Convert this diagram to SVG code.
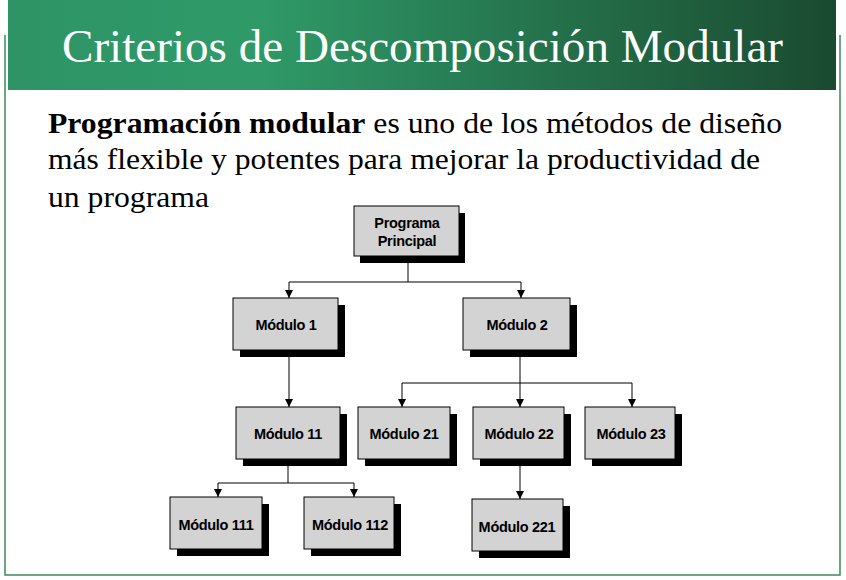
<svg xmlns="http://www.w3.org/2000/svg" width="846" height="580" viewBox="0 0 846 580">
<defs>
<linearGradient id="g" x1="0" y1="0" x2="1" y2="0"><stop offset="0" stop-color="#2e9466"/><stop offset="0.3" stop-color="#2f9a68"/><stop offset="1" stop-color="#1a4a30"/></linearGradient>
</defs>
<style>
.b{fill:#d3d3d3;stroke:#000;stroke-width:1}
.s{fill:#000}
.t{font-family:"Liberation Sans",Arial,sans-serif;font-weight:bold;font-size:14.5px;text-anchor:middle;letter-spacing:-0.3px}
.c{fill:none;stroke:#000;stroke-width:1}
.p{font-family:"Liberation Serif","Times New Roman",serif;font-size:29px}
</style>
<rect width="846" height="580" fill="#fff"/>
<path d="M5,35 V575 H840 V35" fill="none" stroke="#3a8a5a" stroke-width="1.5"/>
<rect x="8" y="0" width="828" height="90" fill="url(#g)"/>
<text x="62" y="62" font-family="Liberation Serif,'Times New Roman',serif" font-size="46" fill="#fff" textLength="721" lengthAdjust="spacingAndGlyphs">Criterios de Descomposición Modular</text>
<text class="p" x="48" y="133" textLength="734" lengthAdjust="spacingAndGlyphs"><tspan font-weight="bold">Programación modular</tspan> es uno de los métodos de diseño</text>
<text class="p" x="48" y="169" textLength="712" lengthAdjust="spacingAndGlyphs">más flexible y potentes para mejorar la productividad de</text>
<text class="p" x="48" y="207" textLength="161" lengthAdjust="spacingAndGlyphs">un programa</text>
<g id="connectors">
<path class="c" d="M408,256 V282 M289,282 H521 M289,282 V298 M521,282 V298"/>
<path class="c" d="M289,350 V407"/>
<path class="c" d="M520,350 V383 M402,383 H632 M402,383 V407 M520,383 V407 M632,383 V407"/>
<path class="c" d="M288,459 V483 M218,483 H354 M218,483 V497 M354,483 V497"/>
<path class="c" d="M520,459 V499"/>
<g class="s">
<path d="M285,290 H293 L289,298 Z"/><path d="M517,290 H525 L521,298 Z"/>
<path d="M285,399 H293 L289,407 Z"/>
<path d="M398,399 H406 L402,407 Z"/><path d="M516,399 H524 L520,407 Z"/><path d="M628,399 H636 L632,407 Z"/>
<path d="M214,489 H222 L218,497 Z"/><path d="M350,489 H358 L354,497 Z"/>
<path d="M516,491 H524 L520,499 Z"/>
</g>
</g>
<g id="pp"><rect class="s" x="360" y="213" width="105" height="50"/><rect class="b" x="354" y="206" width="105" height="50"/><text class="t" x="407" y="228">Programa</text><text class="t" x="407" y="246">Principal</text></g>
<g id="m1"><rect class="s" x="240" y="305" width="105" height="52"/><rect class="b" x="233" y="298" width="105" height="52"/><text class="t" x="286" y="330">Módulo 1</text></g>
<g id="m2"><rect class="s" x="470" y="305" width="107" height="52"/><rect class="b" x="463" y="298" width="107" height="52"/><text class="t" x="517" y="330">Módulo 2</text></g>
<g id="m11"><rect class="s" x="243" y="414" width="104" height="52"/><rect class="b" x="236" y="407" width="104" height="52"/><text class="t" x="288" y="439">Módulo 11</text></g>
<g id="m21"><rect class="s" x="365" y="414" width="92" height="52"/><rect class="b" x="358" y="407" width="92" height="52"/><text class="t" x="404" y="439">Módulo 21</text></g>
<g id="m22"><rect class="s" x="480" y="414" width="91" height="52"/><rect class="b" x="473" y="407" width="91" height="52"/><text class="t" x="519" y="439">Módulo 22</text></g>
<g id="m23"><rect class="s" x="592" y="414" width="90" height="52"/><rect class="b" x="585" y="407" width="90" height="52"/><text class="t" x="631" y="439">Módulo 23</text></g>
<g id="m111"><rect class="s" x="177" y="504" width="92" height="52"/><rect class="b" x="170" y="497" width="92" height="52"/><text class="t" x="216" y="530">Módulo 111</text></g>
<g id="m112"><rect class="s" x="311" y="504" width="90" height="52"/><rect class="b" x="304" y="497" width="90" height="52"/><text class="t" x="350" y="530">Módulo 112</text></g>
<g id="m221"><rect class="s" x="479" y="506" width="91" height="52"/><rect class="b" x="472" y="499" width="91" height="52"/><text class="t" x="517" y="532">Módulo 221</text></g>
</svg>
